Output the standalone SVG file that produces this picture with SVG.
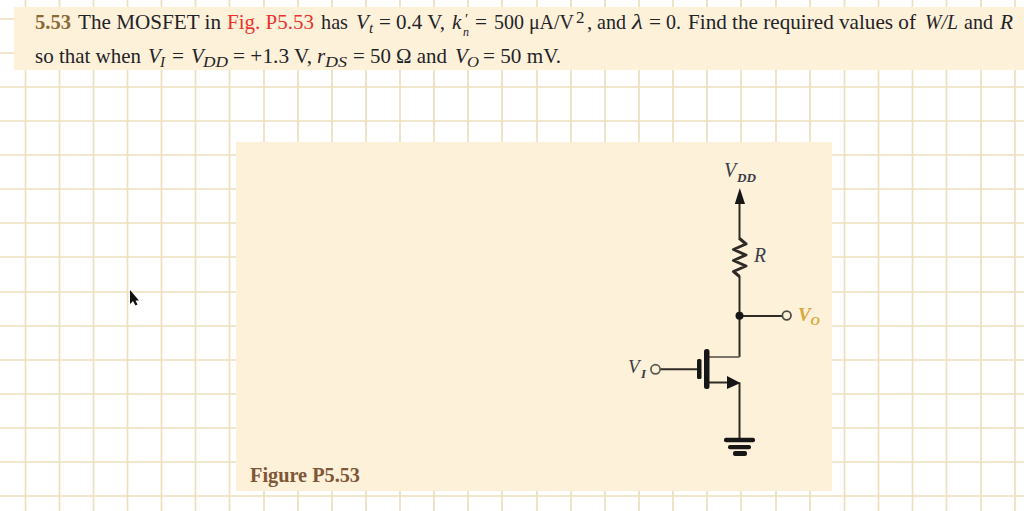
<svg xmlns="http://www.w3.org/2000/svg" width="1024" height="511" viewBox="0 0 1024 511">
<style>
.grid line{stroke:#ecdfbc;stroke-width:1.7}
.band{fill:#fef1da}
text{font-family:"Liberation Serif","Times New Roman",serif;font-size:21px;fill:#1f2428}
.i{font-style:italic}
.s{font-size:15px}
.w{stroke:#2e2a25;stroke-width:2;fill:none}
.l{fill:#3a3d45;font-style:italic}
.b{fill:#161616}
.o{fill:#d8a93c;font-style:italic;font-weight:bold}
</style>
<rect width="1024" height="511" fill="#fff"/>
<g class="grid">
<line x1="25.500" y1="0" x2="25.500" y2="511"/><line x1="59.500" y1="0" x2="59.500" y2="511"/><line x1="93.500" y1="0" x2="93.500" y2="511"/><line x1="127.500" y1="0" x2="127.500" y2="511"/><line x1="161.500" y1="0" x2="161.500" y2="511"/><line x1="195.500" y1="0" x2="195.500" y2="511"/><line x1="229.500" y1="0" x2="229.500" y2="511"/><line x1="264" y1="0" x2="264" y2="511"/><line x1="298" y1="0" x2="298" y2="511"/><line x1="332" y1="0" x2="332" y2="511"/><line x1="366" y1="0" x2="366" y2="511"/><line x1="400" y1="0" x2="400" y2="511"/><line x1="434" y1="0" x2="434" y2="511"/><line x1="468" y1="0" x2="468" y2="511"/><line x1="502" y1="0" x2="502" y2="511"/><line x1="537" y1="0" x2="537" y2="511"/><line x1="571" y1="0" x2="571" y2="511"/><line x1="605" y1="0" x2="605" y2="511"/><line x1="639" y1="0" x2="639" y2="511"/><line x1="673" y1="0" x2="673" y2="511"/><line x1="707" y1="0" x2="707" y2="511"/><line x1="741" y1="0" x2="741" y2="511"/><line x1="776" y1="0" x2="776" y2="511"/><line x1="810" y1="0" x2="810" y2="511"/><line x1="844.500" y1="0" x2="844.500" y2="511"/><line x1="878.500" y1="0" x2="878.500" y2="511"/><line x1="912.500" y1="0" x2="912.500" y2="511"/><line x1="946.500" y1="0" x2="946.500" y2="511"/><line x1="981" y1="0" x2="981" y2="511"/><line x1="1015" y1="0" x2="1015" y2="511"/>
<line x1="0" y1="19" x2="1024" y2="19"/><line x1="0" y1="53" x2="1024" y2="53"/><line x1="0" y1="87" x2="1024" y2="87"/><line x1="0" y1="121" x2="1024" y2="121"/><line x1="0" y1="155" x2="1024" y2="155"/><line x1="0" y1="189" x2="1024" y2="189"/><line x1="0" y1="223" x2="1024" y2="223"/><line x1="0" y1="257" x2="1024" y2="257"/><line x1="0" y1="292" x2="1024" y2="292"/><line x1="0" y1="326" x2="1024" y2="326"/><line x1="0" y1="360" x2="1024" y2="360"/><line x1="0" y1="394" x2="1024" y2="394"/><line x1="0" y1="428" x2="1024" y2="428"/><line x1="0" y1="462" x2="1024" y2="462"/><line x1="0" y1="496" x2="1024" y2="496"/>
</g>
<rect class="band" x="14" y="7" width="1010" height="63"/>
<rect class="band" x="236" y="142" width="596" height="349"/>
<g id="problem-text">
<text x="35" y="29" font-weight="bold" style="fill:#8a6a35" textLength="36" lengthAdjust="spacingAndGlyphs">5.53</text>
<text x="78" y="29" textLength="143" lengthAdjust="spacingAndGlyphs">The MOSFET in</text>
<text x="227" y="29" textLength="87" lengthAdjust="spacingAndGlyphs" style="fill:#e8342c">Fig. P5.53</text>
<text x="321" y="29" textLength="27" lengthAdjust="spacingAndGlyphs">has</text>
<text x="356" y="29" class="i">V</text><text x="369" y="33" class="i s">t</text>
<text x="379" y="29" textLength="66" lengthAdjust="spacingAndGlyphs">= 0.4 V,</text>
<text x="452" y="29" class="i">k</text><text x="465" y="24" class="s">′</text><text x="463" y="36" class="i" style="font-size:12px">n</text>
<text x="475" y="29" textLength="12" lengthAdjust="spacingAndGlyphs">=</text>
<text x="494" y="29" style="font-size:20px" textLength="80" lengthAdjust="spacingAndGlyphs">500 μA/V</text><text x="576" y="23" style="font-size:17px">2</text><text x="587" y="29">,</text>
<text x="597" y="29" textLength="29" lengthAdjust="spacingAndGlyphs">and</text>
<text x="632" y="29" class="i" textLength="11" lengthAdjust="spacingAndGlyphs">λ</text>
<text x="649" y="29" textLength="12" lengthAdjust="spacingAndGlyphs">=</text>
<text x="666" y="29" textLength="15" lengthAdjust="spacingAndGlyphs">0.</text>
<text x="688" y="29" textLength="228" lengthAdjust="spacingAndGlyphs">Find the required values of</text>
<text x="925" y="29" class="i" textLength="33" lengthAdjust="spacingAndGlyphs">W/L</text>
<text x="964" y="29" textLength="29" lengthAdjust="spacingAndGlyphs">and</text>
<text x="1000" y="29" class="i" textLength="13" lengthAdjust="spacingAndGlyphs">R</text>
<text x="35" y="63" textLength="106" lengthAdjust="spacingAndGlyphs">so that when</text>
<text x="148" y="63" class="i">V</text><text x="160" y="67" class="i s">I</text>
<text x="172" y="63" textLength="12" lengthAdjust="spacingAndGlyphs">=</text>
<text x="191" y="63" class="i">V</text><text x="203" y="67" class="i s" textLength="25" lengthAdjust="spacingAndGlyphs">DD</text>
<text x="233" y="63" textLength="79" lengthAdjust="spacingAndGlyphs">= +1.3 V,</text>
<text x="317" y="63" class="i">r</text><text x="325" y="67" class="i s" textLength="22" lengthAdjust="spacingAndGlyphs">DS</text>
<text x="353" y="63" textLength="94" lengthAdjust="spacingAndGlyphs">= 50 Ω and</text>
<text x="455" y="63" class="i">V</text><text x="467" y="67" class="i s" textLength="12" lengthAdjust="spacingAndGlyphs">O</text>
<text x="483" y="63" textLength="78" lengthAdjust="spacingAndGlyphs">= 50 mV.</text>
</g>
<g id="connectors">
<path class="w" d="M739.500 200V240M739.500 276V316H782M739.500 316V357M739.500 382.500V440M660 369.300H697"/>
<path class="w" style="stroke:#7a7468" d="M709 357H739.500"/>
<path class="w" d="M709 382.500H730"/>
<path class="w" style="stroke-width:3;stroke-linejoin:round" d="M739.500 238.500L746 244L733.500 249.500L746 255L733.500 260.500L746 266L733.500 271.500L739.500 276.500"/>
</g>
<g id="vdd"><path class="b" d="M739.800 188L745 204H734.800Z"/><text x="724" y="177" class="l" style="font-size:20px">V</text><text x="737" y="182" class="l" style="font-size:12.500px;font-weight:bold" textLength="19" lengthAdjust="spacingAndGlyphs">DD</text></g>
<g id="r"><text x="754" y="262" class="l" textLength="12" lengthAdjust="spacingAndGlyphs">R</text></g>
<g id="vo-node"><circle class="b" cx="739.500" cy="315.700" r="4"/><circle cx="786.700" cy="315.500" r="4.300" fill="#fef1da" stroke="#4a4a42" stroke-width="1.700"/><text x="798" y="321" class="o" style="font-size:19px">V</text><text x="810.500" y="325" class="o" style="font-size:13px">O</text></g>
<g id="vi-node"><circle cx="655.500" cy="369.300" r="4.600" fill="#fef1da" stroke="#5a5a50" stroke-width="1.700"/><text x="628" y="373" class="l" style="font-size:19px">V</text><text x="641" y="378" class="l" style="font-size:13px;font-weight:bold">I</text></g>
<g id="mosfet"><rect class="b" x="697" y="359" width="4.500" height="20" rx="1.500"/><rect class="b" x="704" y="349" width="5.500" height="40" rx="2.500"/><path class="b" d="M727 376L740.500 383L727 389Z"/></g>
<g id="ground"><rect class="b" x="724" y="437.700" width="31" height="4.500" rx="2"/><rect class="b" x="728" y="445" width="23" height="4.300" rx="2"/><rect class="b" x="733" y="451" width="14" height="5" rx="2"/></g>
<g id="caption"><text x="250" y="482" font-weight="bold" style="fill:#7f5636" textLength="110" lengthAdjust="spacingAndGlyphs">Figure P5.53</text></g>
<path id="cursor" d="M130 290V304L133 301L135.500 305.500L137.500 304.500L135.500 300.500L139 300.500Z" fill="#111"/>
</svg>
